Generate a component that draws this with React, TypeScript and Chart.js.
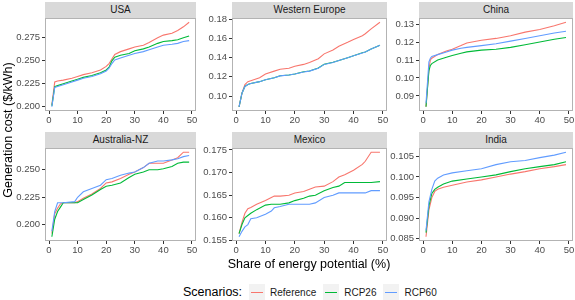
import React, { useEffect, useRef } from "react";
import { Chart, registerables } from "chart.js";

Chart.register(...registerables);

// ---------- data ----------
const scenarios = ["Reference", "RCP26", "RCP60"];
const scenarioColors = ["#F8766D", "#00BA38", "#619CFF"];
const xTicks = [0, 10, 20, 30, 40, 50];

const usaShare = [1, 2, 3, 5, 8, 10, 12, 15, 18, 20, 21, 22, 23, 25, 28, 30, 33, 35, 38, 40, 43, 45, 47, 49];
const usaReference = [0.202, 0.227, 0.228, 0.229, 0.231, 0.233, 0.235, 0.237, 0.24, 0.244, 0.247, 0.252, 0.257, 0.26, 0.263, 0.265, 0.267, 0.27, 0.275, 0.278, 0.28, 0.283, 0.287, 0.292];
const usaRcp26 = [0.201, 0.222, 0.223, 0.225, 0.228, 0.23, 0.232, 0.234, 0.237, 0.24, 0.243, 0.25, 0.254, 0.256, 0.258, 0.261, 0.263, 0.265, 0.269, 0.271, 0.272, 0.273, 0.275, 0.277];
const usaRcp60 = [0.2, 0.221, 0.222, 0.224, 0.227, 0.229, 0.231, 0.233, 0.236, 0.239, 0.242, 0.247, 0.251, 0.253, 0.256, 0.258, 0.26, 0.262, 0.265, 0.267, 0.268, 0.269, 0.271, 0.272];
const usaYTicks = ["0.200", "0.225", "0.250", "0.275"];

const weShare = [1, 2, 3, 4, 5, 8, 10, 13, 15, 18, 20, 23, 25, 28, 30, 33, 35, 38, 40, 43, 44, 46, 49];
const weReference = [0.0888, 0.103, 0.112, 0.115, 0.116, 0.119, 0.123, 0.126, 0.128, 0.129, 0.131, 0.133, 0.135, 0.139, 0.144, 0.148, 0.152, 0.156, 0.159, 0.163, 0.165, 0.17, 0.177];
const weRcp26 = [0.0888, 0.103, 0.11, 0.112, 0.113, 0.115, 0.117, 0.119, 0.1212, 0.122, 0.123, 0.1253, 0.1262, 0.1292, 0.1332, 0.1352, 0.137, 0.14, 0.142, 0.1452, 0.146, 0.149, 0.153];
const weRcp60 = [0.0888, 0.103, 0.11, 0.112, 0.113, 0.115, 0.117, 0.119, 0.121, 0.122, 0.123, 0.125, 0.126, 0.129, 0.133, 0.135, 0.137, 0.14, 0.142, 0.145, 0.146, 0.149, 0.153];
const weYTicks = ["0.10", "0.12", "0.14", "0.16", "0.18"];

const chinaShare = [1, 2, 2.5, 3, 5, 8, 10, 13, 15, 20, 25, 30, 35, 40, 45, 49];
const chinaReference = [0.084, 0.105, 0.11, 0.111, 0.113, 0.115, 0.116, 0.118, 0.1195, 0.121, 0.122, 0.1235, 0.1255, 0.127, 0.129, 0.131];
const chinaRcp26 = [0.084, 0.104, 0.107, 0.108, 0.11, 0.1115, 0.1125, 0.1138, 0.1145, 0.1155, 0.116, 0.117, 0.1185, 0.12, 0.1215, 0.1225];
const chinaRcp60 = [0.086, 0.109, 0.111, 0.112, 0.113, 0.1145, 0.1155, 0.1165, 0.117, 0.118, 0.119, 0.1205, 0.122, 0.1235, 0.125, 0.126];
const chinaYTicks = ["0.09", "0.10", "0.11", "0.12", "0.13"];

const ausShare = [1, 2, 3, 4, 5, 9, 10, 12, 15, 18, 20, 22, 25, 28, 30, 33, 35, 38, 40, 43, 45, 47, 49];
const ausReference = [0.192, 0.21, 0.215, 0.219, 0.22, 0.22, 0.221, 0.224, 0.228, 0.233, 0.238, 0.239, 0.242, 0.246, 0.248, 0.252, 0.256, 0.256, 0.256, 0.259, 0.261, 0.266, 0.266];
const ausRcp26 = [0.189, 0.205, 0.212, 0.216, 0.22, 0.22, 0.22, 0.223, 0.227, 0.232, 0.235, 0.236, 0.238, 0.243, 0.246, 0.248, 0.25, 0.25, 0.251, 0.253, 0.256, 0.257, 0.257];
const ausRcp60 = [0.194, 0.212, 0.22, 0.22, 0.22, 0.221, 0.225, 0.23, 0.233, 0.236, 0.241, 0.242, 0.245, 0.247, 0.248, 0.252, 0.256, 0.258, 0.258, 0.259, 0.26, 0.262, 0.263];
const ausYTicks = ["0.200", "0.225", "0.250"];

const mexShare = [1, 2, 3, 4, 5, 7, 10, 12, 13, 15, 18, 20, 23, 25, 27, 30, 33, 35, 37, 40, 43, 44, 46, 49];
const mexReference = [0.1565, 0.159, 0.161, 0.162, 0.1623, 0.163, 0.1638, 0.1645, 0.1648, 0.1648, 0.165, 0.1655, 0.1658, 0.1663, 0.1668, 0.167, 0.168, 0.169, 0.1695, 0.1705, 0.1718, 0.1725, 0.1745, 0.1745];
const mexRcp26 = [0.1565, 0.1585, 0.16, 0.1605, 0.161, 0.1618, 0.1628, 0.163, 0.163, 0.163, 0.1633, 0.1638, 0.1643, 0.1648, 0.165, 0.166, 0.1667, 0.167, 0.1678, 0.1678, 0.1678, 0.1678, 0.1678, 0.168];
const mexRcp60 = [0.1558, 0.157, 0.158, 0.1585, 0.1598, 0.16, 0.1608, 0.1615, 0.1622, 0.1625, 0.163, 0.163, 0.163, 0.163, 0.1633, 0.1645, 0.165, 0.1655, 0.1655, 0.1655, 0.1655, 0.1655, 0.166, 0.166];
const mexYTicks = ["0.155", "0.160", "0.165", "0.170", "0.175"];

const indShare = [1, 2, 3, 4, 5, 7, 10, 15, 20, 25, 30, 35, 40, 45, 49];
const indReference = [0.0855, 0.092, 0.095, 0.0965, 0.097, 0.0975, 0.098, 0.0988, 0.0993, 0.1, 0.1007, 0.1013, 0.102, 0.1025, 0.103];
const indRcp26 = [0.0865, 0.093, 0.096, 0.097, 0.0975, 0.0983, 0.099, 0.0995, 0.1, 0.1005, 0.1013, 0.102, 0.1025, 0.103, 0.1037];
const indRcp60 = [0.087, 0.094, 0.097, 0.099, 0.0997, 0.1005, 0.101, 0.1015, 0.102, 0.103, 0.1037, 0.104, 0.1047, 0.1053, 0.106];
const indYTicks = ["0.085", "0.090", "0.095", "0.100", "0.105"];

const regions = ["USA", "Western Europe", "China", "Australia-NZ", "Mexico", "India"];
const panels = [
  { share: usaShare, series: [usaReference, usaRcp26, usaRcp60], yTicks: usaYTicks },
  { share: weShare, series: [weReference, weRcp26, weRcp60], yTicks: weYTicks },
  { share: chinaShare, series: [chinaReference, chinaRcp26, chinaRcp60], yTicks: chinaYTicks },
  { share: ausShare, series: [ausReference, ausRcp26, ausRcp60], yTicks: ausYTicks },
  { share: mexShare, series: [mexReference, mexRcp26, mexRcp60], yTicks: mexYTicks },
  { share: indShare, series: [indReference, indRcp26, indRcp60], yTicks: indYTicks },
];

// ---------- layout ----------
const FONT = "'Liberation Sans', Arial, sans-serif";
const colL = [45, 232, 419];
const colR = [196, 387, 573];
const rowT = [18, 148];
const rowB = [111, 241];
const STRIP_H = 16;
const Y_AXIS_W = 30;
const X_AXIS_H = 16;
const PAD_T = 8;
const PAD_R = 8;

const borderPlugin = {
  id: "panelBorder",
  afterDatasetsDraw(chart: any) {
    const { ctx, chartArea } = chart;
    ctx.save();
    ctx.strokeStyle = "#B3B3B3";
    ctx.lineWidth = 1;
    ctx.strokeRect(
      chartArea.left + 0.5,
      chartArea.top + 0.5,
      chartArea.right - chartArea.left - 1,
      chartArea.bottom - chartArea.top - 1
    );
    ctx.restore();
  },
};

function expandRange(vals: number[]) {
  const mn = Math.min(...vals);
  const mx = Math.max(...vals);
  const p = (mx - mn) * 0.05;
  return [mn - p, mx + p];
}

function Panel({ idx }: { idx: number }) {
  const ref = useRef<HTMLCanvasElement>(null);
  const panel = panels[idx];
  const col = idx % 3;
  const row = Math.floor(idx / 3);
  const L = colL[col], R = colR[col], T = rowT[row], B = rowB[row];
  const width = Y_AXIS_W + (R - L) + PAD_R;
  const height = PAD_T + (B - T) + X_AXIS_H;

  useEffect(() => {
    if (!ref.current) return;
    const [xMin, xMax] = expandRange(panel.share);
    const [yMin, yMax] = expandRange(panel.series.flat());
    const yVals = panel.yTicks.map((t) => parseFloat(t));
    const tickFont = { family: FONT, size: 9.5 };
    const chart = new Chart(ref.current, {
      type: "line",
      data: {
        datasets: panel.series.map((vals, i) => ({
          label: scenarios[i],
          data: vals.map((y, j) => ({ x: panel.share[j], y })),
          borderColor: scenarioColors[i],
          backgroundColor: scenarioColors[i],
          borderWidth: 1.1,
          pointRadius: 0,
          tension: 0,
          fill: false,
          order: 2 - i,
        })),
      },
      options: {
        responsive: false,
        animation: false,
        devicePixelRatio: 1,
        layout: { padding: { top: PAD_T, right: PAD_R, bottom: 0, left: 0 } },
        plugins: { legend: { display: false }, tooltip: { enabled: false }, title: { display: false } },
        scales: {
          x: {
            type: "linear",
            min: xMin,
            max: xMax,
            afterBuildTicks: (s: any) => {
              s.ticks = xTicks.map((v) => ({ value: v }));
            },
            afterFit: (s: any) => {
              s.height = X_AXIS_H;
            },
            grid: { display: true, drawOnChartArea: false, drawTicks: true, tickLength: 3, tickColor: "#333333", tickWidth: 1 },
            border: { display: false },
            ticks: { padding: 1, color: "#4D4D4D", font: tickFont, maxRotation: 0, autoSkip: false },
          },
          y: {
            type: "linear",
            min: yMin,
            max: yMax,
            afterBuildTicks: (s: any) => {
              s.ticks = yVals.map((v) => ({ value: v }));
            },
            afterFit: (s: any) => {
              s.width = Y_AXIS_W;
            },
            grid: { display: true, drawOnChartArea: false, drawTicks: true, tickLength: 3, tickColor: "#333333", tickWidth: 1 },
            border: { display: false },
            ticks: {
              padding: 2,
              color: "#4D4D4D",
              font: tickFont,
              autoSkip: false,
              callback: (value: any) => {
                const k = yVals.findIndex((v) => Math.abs(v - Number(value)) < 1e-9);
                return k >= 0 ? panel.yTicks[k] : "";
              },
            },
          },
        },
      },
      plugins: [borderPlugin],
    } as any);
    return () => chart.destroy();
  }, []);

  return (
    <>
      <div
        style={{
          position: "absolute",
          left: L,
          top: T - STRIP_H,
          width: R - L,
          height: STRIP_H,
          background: "#D9D9D9",
          color: "#1A1A1A",
          fontFamily: FONT,
          fontSize: 10,
          lineHeight: STRIP_H + "px",
          textAlign: "center",
        }}
      >
        {regions[idx]}
      </div>
      <canvas
        ref={ref}
        width={width}
        height={height}
        style={{ position: "absolute", left: L - Y_AXIS_W, top: T - PAD_T, width, height }}
      />
    </>
  );
}

function LegendKey({ color }: { color: string }) {
  return (
    <div style={{ position: "relative", width: 16, height: 16, background: "#F2F2F2", marginRight: 5 }}>
      <div style={{ position: "absolute", left: 2, right: 2, top: 7.5, height: 1.1, background: color }} />
    </div>
  );
}

export default function App() {
  return (
    <div
      style={{
        position: "fixed",
        left: 0,
        top: 0,
        width: 575,
        height: 300,
        background: "#FFFFFF",
        overflow: "hidden",
        fontFamily: FONT,
      }}
    >
      {panels.map((_, i) => (
        <Panel key={i} idx={i} />
      ))}
      <div
        style={{
          position: "absolute",
          left: 8 - 100,
          top: 130 - 8,
          width: 200,
          height: 16,
          lineHeight: "16px",
          textAlign: "center",
          fontSize: 12.5,
          color: "#000",
          transform: "rotate(-90deg)",
          transformOrigin: "50% 50%",
          whiteSpace: "nowrap",
        }}
      >
        Generation cost ($/kWh)
      </div>
      <div
        style={{
          position: "absolute",
          left: 45,
          width: 528,
          top: 256,
          height: 16,
          lineHeight: "16px",
          textAlign: "center",
          fontSize: 12.5,
          color: "#000",
          whiteSpace: "nowrap",
        }}
      >
        Share of energy potential (%)
      </div>
      <div
        style={{
          position: "absolute",
          left: 183,
          top: 284,
          height: 16,
          display: "flex",
          alignItems: "center",
          whiteSpace: "nowrap",
        }}
      >
        <span style={{ fontSize: 12.5, color: "#000", marginRight: 7 }}>Scenarios:</span>
        {scenarios.map((s, i) => (
          <div key={s} style={{ display: "flex", alignItems: "center", marginRight: i < 2 ? 7 : 0 }}>
            <LegendKey color={scenarioColors[i]} />
            <span style={{ fontSize: 10, color: "#1A1A1A" }}>{s}</span>
          </div>
        ))}
      </div>
    </div>
  );
}
